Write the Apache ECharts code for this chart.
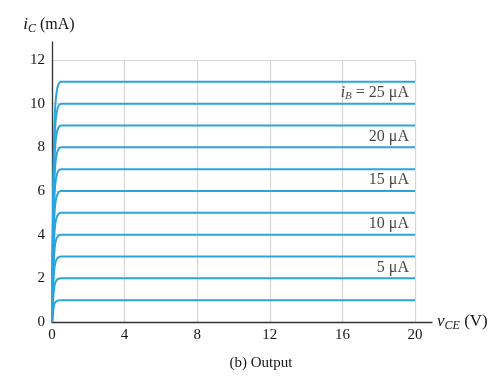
<!DOCTYPE html>
<html><head><meta charset="utf-8">
<script src="https://cdn.jsdelivr.net/npm/echarts@6/dist/echarts.min.js"></script>
<style>html,body{margin:0;padding:0;background:#fff}#c{width:504px;height:388px}</style>
</head><body><div id="c"></div>
<script>
// Collector-emitter voltage sample points (V)
var vce = [0, 0.06, 0.12, 0.18, 0.26, 0.36, 0.5, 0.7, 20];
// Collector current curves (mA), one per base current step
var ic1  = [0, 0.5, 0.78, 0.9, 0.96, 0.99, 1, 1, 1];
var ic2  = [0, 1.0, 1.56, 1.8, 1.92, 1.98, 2, 2, 2];
var ic3  = [0, 1.5, 2.35, 2.7, 2.88, 2.97, 3, 3, 3];
var ic4  = [0, 2.0, 3.1, 3.6, 3.84, 3.96, 4, 4, 4];
var ic5  = [0, 2.5, 3.9, 4.5, 4.8, 4.95, 5, 5, 5];
var ic6  = [0, 3.0, 4.7, 5.4, 5.76, 5.94, 6, 6, 6];
var ic7  = [0, 3.5, 5.45, 6.3, 6.72, 6.93, 7, 7, 7];
var ic8  = [0, 4.0, 6.25, 7.2, 7.68, 7.92, 8, 8, 8];
var ic9  = [0, 4.5, 7.0, 8.1, 8.64, 8.91, 9, 9, 9];
var ic10 = [0, 5.0, 7.8, 9.0, 9.6, 9.9, 10, 10, 10];
var ic11 = [0, 5.5, 8.6, 9.9, 10.56, 10.89, 11, 11, 11];
var curves = [ic1, ic2, ic3, ic4, ic5, ic6, ic7, ic8, ic9, ic10, ic11];
// Curve labels
var labelY = [10.5, 8.5, 6.5, 4.5, 2.5];
var labelText = ['{i|i}{s|B} = 25 μA', '20 μA', '15 μA', '10 μA', '5 μA'];
// Ticks
var xTicks = [0, 4, 8, 12, 16, 20];
var yTicks = [0, 2, 4, 6, 8, 10, 12];

var serif = '"Liberation Serif","DejaVu Serif",serif';
var blue = '#2ba5dd';
var ink = '#151515';
var series = curves.map(function (c) {
  return {
    type: 'line', xAxisIndex: 0, yAxisIndex: 0, showSymbol: false, smooth: 0.35,
    lineStyle: {color: blue, width: 2}, silent: true,
    data: vce.map(function (v, i) { return [v, c[i]]; })
  };
});
series.push({
  type: 'scatter', xAxisIndex: 0, yAxisIndex: 0, symbolSize: 0, silent: true,
  data: labelY.map(function (y, i) { return {value: [20, y], name: labelText[i]}; }),
  label: {
    show: true, position: 'left', distance: 6, formatter: function (p) { return p.name; },
    fontFamily: serif, fontSize: 16, color: ink,
    rich: {i: {fontFamily: serif, fontStyle: 'italic', fontSize: 16, color: ink},
           s: {fontFamily: serif, fontStyle: 'italic', fontSize: 11, color: ink, verticalAlign: 'bottom', padding: [7, 0, 0, 0]}}
  }
});

var chart = echarts.init(document.getElementById('c'), null, {renderer: 'canvas'});
chart.setOption({
  animation: false,
  backgroundColor: '#fff',
  grid: [
    {left: 52, right: 89, top: 60, bottom: 66},
    {left: 52, right: 72, top: 42, bottom: 66}
  ],
  xAxis: [
    {gridIndex: 0, type: 'value', min: 0, max: 20, interval: 4,
     axisLine: {show: false}, axisTick: {show: false},
     axisLabel: {fontFamily: serif, fontSize: 15, color: ink, margin: 6,
       formatter: function (v) { return xTicks.indexOf(v) >= 0 ? String(v) : ''; }},
     splitLine: {show: true, lineStyle: {color: '#d6d6d6', width: 1.2}}},
    {gridIndex: 1, type: 'value', min: 0, max: 1,
     axisLine: {show: true, lineStyle: {color: '#333', width: 1.3}}, axisTick: {show: false},
     axisLabel: {show: false}, splitLine: {show: false},
     name: '{i|v}{s|CE} (V)', nameLocation: 'end', nameGap: 5,
     nameTextStyle: {fontFamily: serif, fontSize: 17, color: ink, verticalAlign: 'middle',
       rich: {i: {fontFamily: serif, fontStyle: 'italic', fontSize: 17, color: ink},
              s: {fontFamily: serif, fontStyle: 'italic', fontSize: 12, color: ink, padding: [8, 0, 0, 0]}}}}
  ],
  yAxis: [
    {gridIndex: 0, type: 'value', min: 0, max: 12, interval: 2,
     axisLine: {show: false}, axisTick: {show: false},
     axisLabel: {fontFamily: serif, fontSize: 15, color: ink, margin: 7,
       formatter: function (v) { return yTicks.indexOf(v) >= 0 ? String(v) : ''; }},
     splitLine: {show: true, lineStyle: {color: '#d6d6d6', width: 1.2}}},
    {gridIndex: 1, type: 'value', min: 0, max: 1,
     axisLine: {show: true, lineStyle: {color: '#333', width: 1.3}}, axisTick: {show: false},
     axisLabel: {show: false}, splitLine: {show: false},
     name: '{i|i}{s|C} (mA)', nameLocation: 'end', nameGap: 7,
     nameTextStyle: {fontFamily: serif, fontSize: 16, color: ink, align: 'center', padding: [0, 6, 0, 0],
       rich: {i: {fontFamily: serif, fontStyle: 'italic', fontSize: 17, color: ink},
              s: {fontFamily: serif, fontStyle: 'italic', fontSize: 12, color: ink, padding: [8, 0, 0, 0]}}}}
  ],
  title: {text: '(b) Output', left: 256, top: 351, textAlign: 'center',
    textStyle: {fontFamily: serif, fontSize: 15, fontWeight: 'normal', color: ink}},
  series: series
});
</script></body></html>
